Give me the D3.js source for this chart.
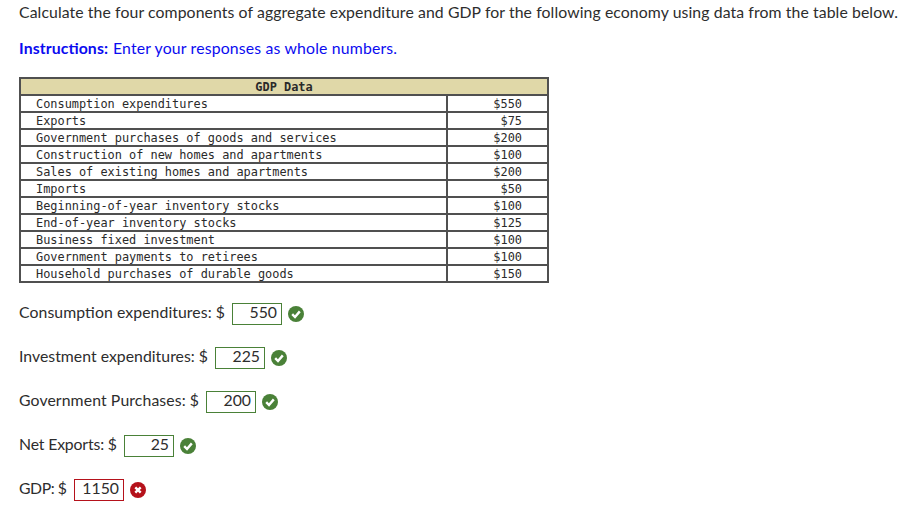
<!DOCTYPE html>
<html>
<head>
<meta charset="utf-8">
<script src="https://cdn.jsdelivr.net/npm/d3@7"></script>
<style>
  html, body { margin: 0; background: #fff; }
  svg { display: block; }
  .sans { font-family: "Lato", "Open Sans", sans-serif; }
  .mono { font-family: "DejaVu Sans Mono", "Liberation Mono", monospace; font-size: 11.9px; fill: #2a2a2a; }
</style>
</head>
<body>
<svg id="chart"></svg>
<script>
const w = 914;
const h = 517;

const titleText = "Calculate the four components of aggregate expenditure and GDP for the following economy using data from the table below.";
const instructionBold = "Instructions:";
const instructionRest = "Enter your responses as whole numbers.";
const tableTitle = "GDP Data";

const rowLabels = [
  "Consumption expenditures",
  "Exports",
  "Government purchases of goods and services",
  "Construction of new homes and apartments",
  "Sales of existing homes and apartments",
  "Imports",
  "Beginning-of-year inventory stocks",
  "End-of-year inventory stocks",
  "Business fixed investment",
  "Government payments to retirees",
  "Household purchases of durable goods"
];
const rowValues = [550, 75, 200, 100, 200, 50, 100, 125, 100, 100, 150];

const answerLabels = ["Consumption expenditures: $", "Investment expenditures: $", "Government Purchases: $", "Net Exports: $", "GDP: $"];
const answerValues = [550, 225, 200, 25, 1150];
const answerCorrect = [true, true, true, true, false];

const svg = d3.select("#chart").attr("width", w).attr("height", h);

// heading text
svg.append("text")
   .attr("class", "sans")
   .attr("x", 19)
   .attr("y", 18)
   .attr("font-size", 15.8)
   .attr("fill", "#2d2d2d")
   .attr("textLength", 879)
   .text(titleText);

svg.append("text")
   .attr("class", "sans")
   .attr("x", 19)
   .attr("y", 54)
   .attr("font-size", 15.8)
   .attr("font-weight", 700)
   .attr("fill", "#0b0bf0")
   .attr("textLength", 89)
   .text(instructionBold);

svg.append("text")
   .attr("class", "sans")
   .attr("x", 113)
   .attr("y", 54)
   .attr("font-size", 15.8)
   .attr("fill", "#0b0bf0")
   .attr("textLength", 284)
   .text(instructionRest);

// table
const tableLeft = 20;
const tableRight = 548;
const divider = 447;

let yScale = d3.scaleBand()
               .domain(d3.range(-1, rowLabels.length))
               .range([78, 282]);

const lineColor = "#505050";

svg.append("rect")
   .attr("x", tableLeft)
   .attr("y", yScale(-1))
   .attr("width", tableRight - tableLeft)
   .attr("height", yScale.bandwidth())
   .attr("fill", "#e0d8a8");

svg.selectAll("line.row")
   .data(d3.range(-1, rowLabels.length + 1))
   .enter()
   .append("line")
   .attr("class", "row")
   .attr("x1", tableLeft - 1)
   .attr("x2", tableRight + 1)
   .attr("y1", d => 78 + (d + 1) * yScale.step())
   .attr("y2", d => 78 + (d + 1) * yScale.step())
   .attr("stroke", lineColor)
   .attr("stroke-width", 2);

[tableLeft, tableRight].forEach(x => {
  svg.append("line")
     .attr("x1", x).attr("x2", x)
     .attr("y1", 78).attr("y2", 283)
     .attr("stroke", lineColor)
     .attr("stroke-width", 2);
});

svg.append("line")
   .attr("x1", divider).attr("x2", divider)
   .attr("y1", yScale(0)).attr("y2", 283)
   .attr("stroke", lineColor)
   .attr("stroke-width", 2);

svg.append("text")
   .attr("class", "mono")
   .attr("x", 284)
   .attr("y", yScale(-1) + 13)
   .attr("text-anchor", "middle")
   .attr("font-weight", 700)
   .text(tableTitle);

svg.selectAll("text.label")
   .data(rowLabels)
   .enter()
   .append("text")
   .attr("class", "mono label")
   .attr("x", 36)
   .attr("y", (d, i) => yScale(i) + 13)
   .text(d => d);

svg.selectAll("text.value")
   .data(rowValues)
   .enter()
   .append("text")
   .attr("class", "mono value")
   .attr("x", 522)
   .attr("y", (d, i) => yScale(i) + 13)
   .attr("text-anchor", "end")
   .text(d => "$" + d);

// answers
let answerY = d3.scalePoint()
                .domain(d3.range(answerLabels.length))
                .range([314, 490]);

const boxLefts = [232, 215, 206, 124, 74];
const green = "#4a8138";
const red = "#b5121b";

answerLabels.forEach((label, i) => {
  let cy = answerY(i);
  let color = answerCorrect[i] ? green : red;
  let boxX = boxLefts[i];

  svg.append("text")
     .attr("class", "sans")
     .attr("x", 19)
     .attr("y", cy + 4)
     .attr("font-size", 15.8)
     .attr("fill", "#2d2d2d")
     .attr("textLength", boxX - 7 - 19)
     .text(label);

  svg.append("rect")
     .attr("x", boxX + 0.5)
     .attr("y", cy - 10.5)
     .attr("width", 49)
     .attr("height", 21)
     .attr("fill", "#fff")
     .attr("stroke", color);

  svg.append("text")
     .attr("class", "sans")
     .attr("x", boxX + 45)
     .attr("y", cy + 4)
     .attr("font-size", 15.8)
     .attr("text-anchor", "end")
     .attr("fill", "#2d2d2d")
     .text(answerValues[i]);

  let icon = svg.append("g").attr("transform", `translate(${boxX + 64}, ${cy})`);
  icon.append("circle").attr("r", 8).attr("fill", color);
  if (answerCorrect[i]) {
    icon.append("path")
        .attr("d", "M-3.8,0.2 L-1,3 L3.8,-2.6")
        .attr("fill", "none")
        .attr("stroke", "#fff")
        .attr("stroke-width", 2.4);
  } else {
    icon.append("path")
        .attr("d", "M-2.7,-2.7 L2.7,2.7 M2.7,-2.7 L-2.7,2.7")
        .attr("stroke", "#fff")
        .attr("stroke-width", 2.4);
  }
});
</script>
</body>
</html>
